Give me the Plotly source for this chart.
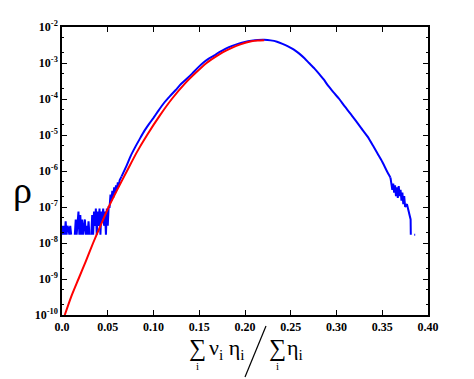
import plotly.graph_objects as go

# ---- data ----
# left noise region (histogram bins with very few counts)
noise_left_x = [0.000, 0.001, 0.002, 0.003, 0.004, 0.005, 0.006, 0.007, 0.008, 0.009,
                0.010, 0.011, 0.012, 0.013, 0.014, 0.015, 0.016, 0.017, 0.018, 0.019,
                0.020, 0.021, 0.022, 0.023, 0.024, 0.025, 0.026, 0.027, 0.028, 0.029,
                0.030, 0.031, 0.032, 0.033, 0.034, 0.035, 0.036, 0.037, 0.038, 0.039,
                0.040, 0.041, 0.042, 0.043, 0.044, 0.045, 0.046, 0.047, 0.048, 0.049,
                0.050, 0.051, 0.052, 0.053, 0.054, 0.055, 0.056, 0.057, 0.058, 0.059,
                0.060, 0.061, 0.062, 0.063, 0.065]
noise_left_y = [3.0e-8, 1.7e-8, 3.0e-8, 1.7e-8, 4.0e-8, 1.7e-8, 3.0e-8, 2.5e-8, 1.7e-8, 3.0e-8,
                1.7e-8, None, 1.7e-8, None, 1.7e-8, 4.5e-8, 1.7e-8, 3.0e-8, 7.5e-8, 1.7e-8,
                6.0e-8, 1.7e-8, 4.5e-8, 1.7e-8, 3.0e-8, 4.5e-8, 1.7e-8, 3.0e-8, 1.7e-8, 4.0e-8,
                1.7e-8, None, 1.7e-8, 6.0e-8, 1.7e-8, 7.5e-8, 3.0e-8, 9.0e-8, 1.7e-8, 7.5e-8,
                3.0e-8, 9.0e-8, 1.7e-8, 7.5e-8, 4.5e-8, 9.0e-8, 3.0e-8, 7.5e-8, 1.7e-8, 9.0e-8,
                3.0e-8, 1.0e-7, 1.0e-7, 2.2e-7, 1.5e-7, 2.8e-7, 1.8e-7, 3.5e-7, 2.4e-7, 4.0e-7,
                3.0e-7, 4.8e-7, 3.6e-7, 5.5e-7, 7.0e-7]

# smooth part of the simulated distribution (rising and falling flanks)
smooth_x = [0.065, 0.070, 0.075, 0.080, 0.085, 0.090, 0.095, 0.100, 0.105, 0.111, 0.118,
            0.124, 0.130, 0.136, 0.142, 0.148, 0.154, 0.160, 0.166, 0.172, 0.179, 0.186,
            0.193, 0.200, 0.207, 0.214, 0.221, 0.228, 0.235, 0.241, 0.247, 0.253, 0.259,
            0.265, 0.270, 0.276, 0.281, 0.286, 0.291, 0.297, 0.303, 0.309, 0.315, 0.321,
            0.327, 0.334, 0.340, 0.345, 0.350, 0.355, 0.359]
smooth_y = [7.0e-7, 1.3e-6, 2.6e-6, 4.6e-6, 7.8e-6, 1.3e-5, 2.0e-5, 3.0e-5, 4.6e-5, 7.5e-5, 1.2e-4,
            1.75e-4, 2.6e-4, 3.6e-4, 5.0e-4, 7.2e-4, 1.0e-3, 1.3e-3, 1.6e-3, 2.0e-3, 2.5e-3, 3.0e-3,
            3.45e-3, 3.85e-3, 4.15e-3, 4.35e-3, 4.4e-3, 4.25e-3, 3.9e-3, 3.4e-3, 2.9e-3, 2.4e-3, 1.85e-3,
            1.35e-3, 1.0e-3, 7.0e-4, 5.0e-4, 3.5e-4, 2.3e-4, 1.5e-4, 1.0e-4, 6.2e-5, 4.0e-5, 2.5e-5,
            1.55e-5, 9.0e-6, 5.0e-6, 3.0e-6, 1.8e-6, 1.0e-6, 6.5e-7]

# right noise tail
tail_x = [0.359, 0.361, 0.362, 0.363, 0.364, 0.365, 0.366, 0.367, 0.368, 0.369, 0.370, 0.371,
          0.372, 0.373, 0.374, 0.375, 0.377, 0.379, 0.380, 0.381, 0.3812, 0.3830, 0.3850, 0.3860]
tail_y = [6.5e-7, 3.0e-7, 4.5e-7, 2.5e-7, 4.0e-7, 2.0e-7, 3.5e-7, 1.8e-7, 3.8e-7, 2.0e-7, 3.0e-7, 1.5e-7,
          2.5e-7, 1.2e-7, 2.0e-7, 1.0e-7, 1.2e-7, 7.5e-8, 6.0e-8, 4.5e-8, 1.7e-8, None, 1.7e-8, 1.7e-8]

# fitted (red) curve
fit_x = [0.003, 0.010, 0.018, 0.026, 0.034, 0.042, 0.051, 0.060, 0.071, 0.082, 0.093, 0.107,
         0.120, 0.135, 0.145, 0.158, 0.168, 0.176, 0.185, 0.195, 0.207, 0.214, 0.221]
fit_y = [1e-10, 3.2e-10, 1e-9, 3.1e-9, 1e-8, 3.0e-8, 1e-7, 2.9e-7, 1e-6, 3.4e-6, 1e-5, 3.5e-5,
         1e-4, 2.8e-4, 5.0e-4, 1e-3, 1.5e-3, 2e-3, 2.6e-3, 3.3e-3, 4e-3, 4.2e-3, 4.3e-3]

x_ticks = [0.0, 0.05, 0.10, 0.15, 0.20, 0.25, 0.30, 0.35, 0.40]
x_tick_labels = ["0.0", "0.05", "0.10", "0.15", "0.20", "0.25", "0.30", "0.35", "0.40"]
y_ticks = [1e-10, 1e-9, 1e-8, 1e-7, 1e-6, 1e-5, 1e-4, 1e-3, 1e-2]
y_tick_labels = ["10<sup>-10</sup>", "10<sup>-9</sup>", "10<sup>-8</sup>", "10<sup>-7</sup>",
                 "10<sup>-6</sup>", "10<sup>-5</sup>", "10<sup>-4</sup>", "10<sup>-3</sup>",
                 "10<sup>-2</sup>"]

BLUE = "#0000ff"
RED = "#ff0000"

fig = go.Figure()
fig.add_trace(go.Scatter(x=noise_left_x, y=noise_left_y, mode="lines",
                         line=dict(color=BLUE, width=2), connectgaps=False, showlegend=False))
fig.add_trace(go.Scatter(x=smooth_x, y=smooth_y, mode="lines",
                         line=dict(color=BLUE, width=2, shape="spline", smoothing=0.6),
                         showlegend=False))
fig.add_trace(go.Scatter(x=tail_x, y=tail_y, mode="lines",
                         line=dict(color=BLUE, width=2), connectgaps=False, showlegend=False))
fig.add_trace(go.Scatter(x=fit_x, y=fit_y, mode="lines",
                         line=dict(color=RED, width=2, shape="spline", smoothing=0.6),
                         showlegend=False))

W, H = 474, 379
L, R, T, B = 62, 46, 27, 64
pw, ph = W - L - R, H - T - B

def px(xp):
    return (xp - L) / pw

def py(yp):
    return (H - B - yp) / ph

bold_font = dict(family="Liberation Serif", size=12, color="black", weight="bold")

fig.update_layout(
    width=W, height=H,
    margin=dict(l=L, r=R, t=T, b=B),
    paper_bgcolor="white", plot_bgcolor="white",
    xaxis=dict(range=[0, 0.40], tickvals=x_ticks, ticktext=x_tick_labels,
               ticks="inside", ticklen=5, tickwidth=1, tickcolor="black",
               showline=True, linecolor="black", linewidth=1.5, mirror="ticks",
               showgrid=False, zeroline=False, tickfont=bold_font),
    yaxis=dict(type="log", range=[-10, -2], tickvals=y_ticks, ticktext=y_tick_labels,
               ticks="inside", ticklen=5, tickwidth=1, tickcolor="black",
               showline=True, linecolor="black", linewidth=1.5, mirror="ticks",
               showgrid=False, zeroline=False,
               minor=dict(ticks="inside", ticklen=2.5, tickwidth=0.8, tickcolor="black",
                          showgrid=False),
               tickfont=bold_font),
)

serif = "Liberation Serif"

def label(xp, yp, text, size):
    return dict(x=px(xp), y=py(yp), xref="paper", yref="paper", text=text,
                xanchor="center", yanchor="middle", showarrow=False,
                font=dict(family=serif, size=size, color="black"))

ann = [
    label(22, 190, "ρ", 38),
    label(197, 348, "∑", 24),
    label(197, 366, "i", 11),
    label(227, 349, "ν<sub>i</sub> η<sub>i</sub>", 22),
    label(277, 348, "∑", 24),
    label(277, 366, "i", 11),
    label(295, 349, "η<sub>i</sub>", 22),
]
fig.update_layout(annotations=ann)

fig.add_shape(type="line", xref="paper", yref="paper",
              x0=px(245), y0=py(377), x1=px(266), y1=py(326),
              line=dict(color="black", width=1.2))

fig.write_html("out.html", config={"displayModeBar": False},
               post_script="document.body.style.margin='0px';"
                           "document.documentElement.style.overflow='hidden';")
